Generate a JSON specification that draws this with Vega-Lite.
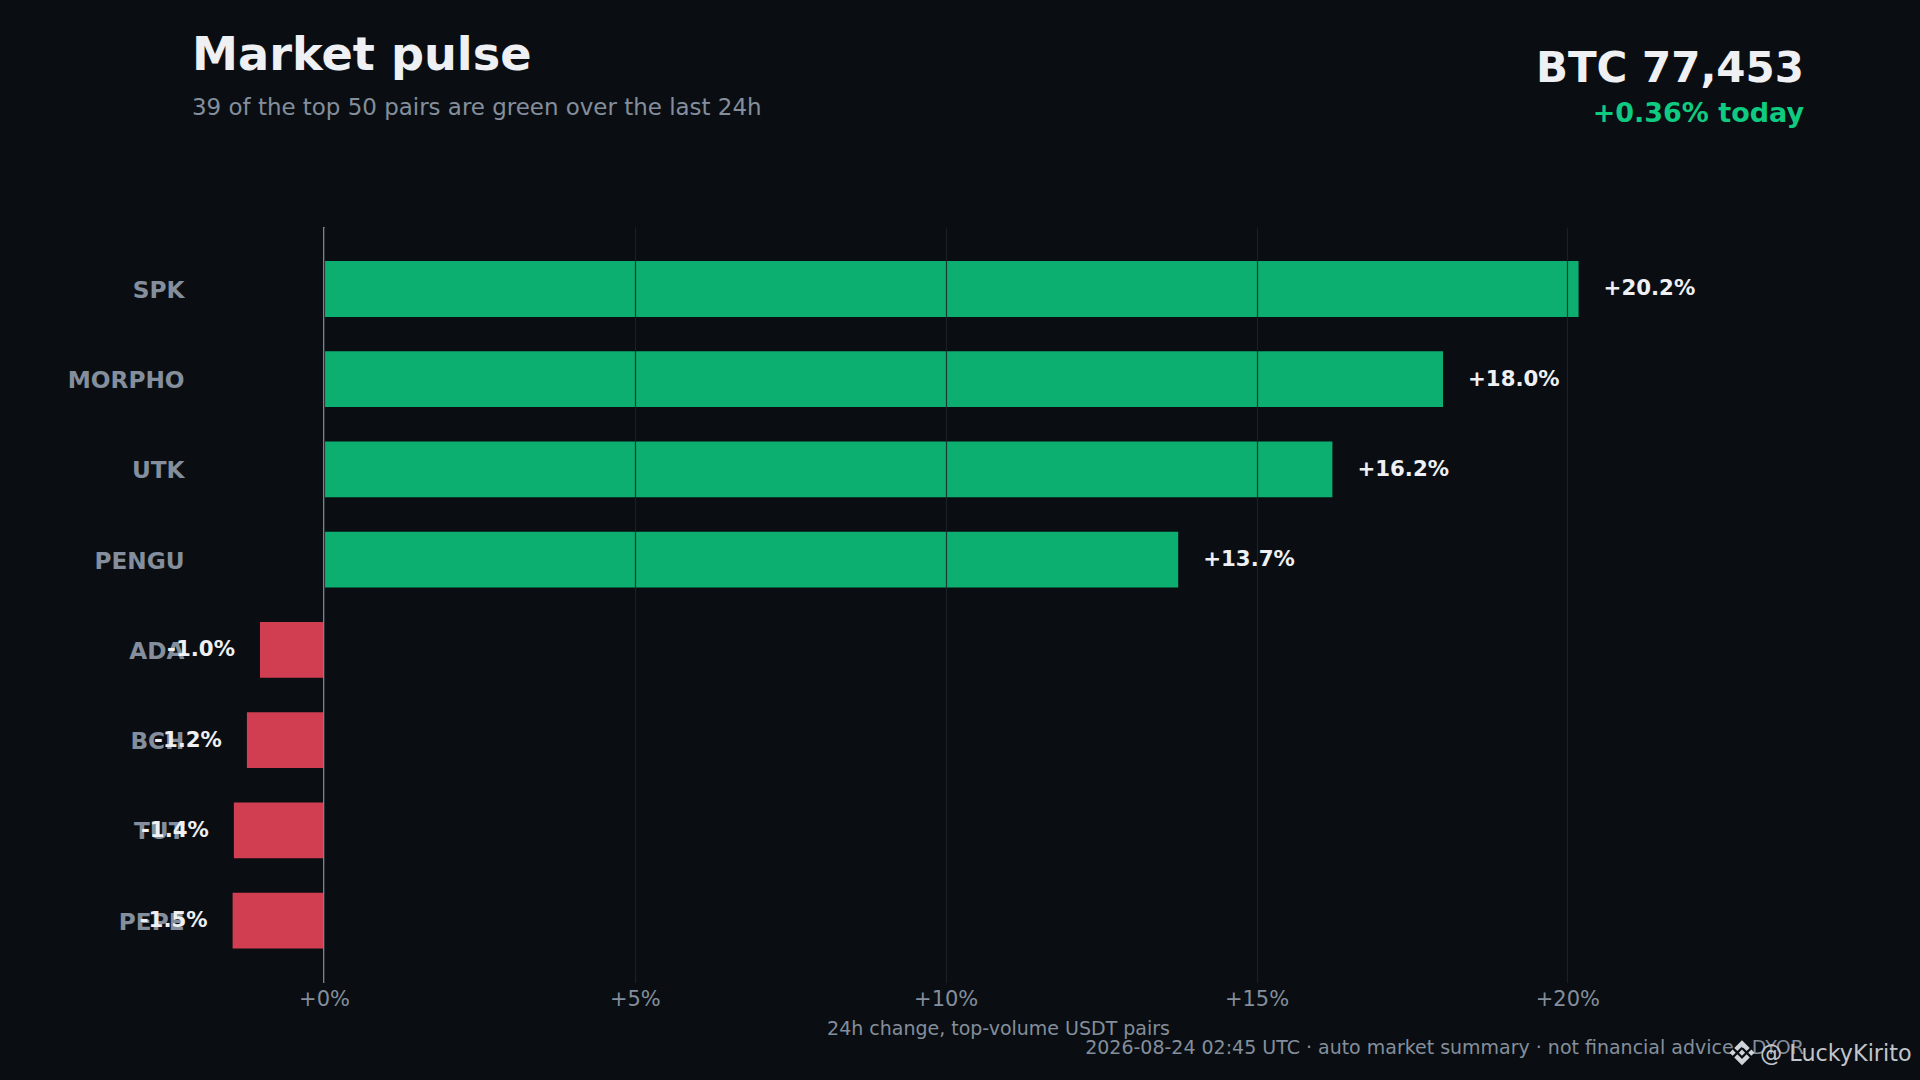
{
  "$schema": "https://vega.github.io/schema/vega-lite/v5.json",
  "autosize": "none",
  "padding": {"left": 192, "top": 227, "right": 116, "bottom": 97},
  "width": 1612,
  "height": 755.7,
  "background": "#0a0e12",
  "config": {"view": {"stroke": null}},
  "title": {
    "text": "Market pulse",
    "subtitle": "39 of the top 50 pairs are green over the last 24h",
    "anchor": "start",
    "frame": "group",
    "font": "DejaVu Sans",
    "fontSize": 46.2,
    "fontWeight": "bold",
    "color": "#eef0f4",
    "subtitleFont": "DejaVu Sans",
    "subtitleFontSize": 22.95,
    "subtitleColor": "#848e9c",
    "subtitlePadding": 16.5,
    "offset": -72.5
  },
  "data": {
    "values": [
      {"pair": "SPK", "change": 20.18, "label": "+20.2%"},
      {"pair": "MORPHO", "change": 18.0, "label": "+18.0%"},
      {"pair": "UTK", "change": 16.22, "label": "+16.2%"},
      {"pair": "PENGU", "change": 13.74, "label": "+13.7%"},
      {"pair": "ADA", "change": -1.03, "label": "-1.0%"},
      {"pair": "BCH", "change": -1.24, "label": "-1.2%"},
      {"pair": "TUT", "change": -1.45, "label": "-1.4%"},
      {"pair": "PEPE", "change": -1.47, "label": "-1.5%"}
    ]
  },
  "encoding": {
    "y": {
      "field": "pair",
      "type": "nominal",
      "sort": null,
      "title": null,
      "scale": {"paddingInner": 0.382, "paddingOuter": 0.378},
      "axis": {
        "domain": false,
        "ticks": false,
        "grid": false,
        "labelPadding": 8,
        "labelOffset": 2,
        "labelFont": "DejaVu Sans",
        "labelFontSize": 23.2,
        "labelFontWeight": "bold",
        "labelColor": "#848e9c"
      }
    },
    "x": {
      "field": "change",
      "type": "quantitative",
      "title": "24h change, top-volume USDT pairs",
      "scale": {"domain": [-2.123, 23.806], "nice": false, "zero": false},
      "axis": {
        "values": [0, 5, 10, 15, 20],
        "labelExpr": "'+' + datum.value + '%'",
        "domain": false,
        "ticks": false,
        "grid": true,
        "gridColor": "#1e2329",
        "gridOpacity": 0.85,
        "gridWidth": 1.2,
        "zindex": 1,
        "labelPadding": 6,
        "labelFont": "DejaVu Sans",
        "labelFontSize": 21,
        "labelColor": "#848e9c",
        "titleFont": "DejaVu Sans",
        "titleFontSize": 19,
        "titleFontWeight": "normal",
        "titleColor": "#848e9c",
        "titlePadding": 10
      }
    }
  },
  "layer": [
    {
      "mark": {"type": "bar", "opacity": 0.85},
      "encoding": {
        "color": {
          "condition": {"test": "datum.change >= 0", "value": "#0ecb81"},
          "value": "#f6465d"
        }
      }
    },
    {
      "mark": {"type": "rule", "color": "#848e9c", "strokeWidth": 1.6},
      "encoding": {
        "x": {"datum": 0},
        "y": {}
      }
    },
    {
      "transform": [{"filter": "datum.change >= 0"}],
      "mark": {"type": "text", "align": "left", "baseline": "middle", "dx": 25, "dy": 0.5, "font": "DejaVu Sans", "fontSize": 21.3, "fontWeight": "bold", "color": "#eef0f4"},
      "encoding": {"text": {"field": "label"}}
    },
    {
      "transform": [{"filter": "datum.change < 0"}],
      "mark": {"type": "text", "align": "right", "baseline": "middle", "dx": -25, "dy": 0.5, "font": "DejaVu Sans", "fontSize": 21.3, "fontWeight": "bold", "color": "#eef0f4"},
      "encoding": {"text": {"field": "label"}}
    },
    {
      "data": {"values": [{"text": "BTC 77,453", "at": 23.806, "pair": "SPK"}]},
      "mark": {"type": "text", "align": "right", "baseline": "middle", "dy": -220, "font": "DejaVu Sans", "fontSize": 42, "fontWeight": "bold", "color": "#eef0f4"},
      "encoding": {"x": {"field": "at", "type": "quantitative"}, "y": {"field": "pair", "type": "nominal", "sort": null}, "text": {"field": "text"}}
    },
    {
      "data": {"values": [{"text": "+0.36% today", "at": 23.806, "pair": "SPK"}]},
      "mark": {"type": "text", "align": "right", "baseline": "middle", "dy": -175, "font": "DejaVu Sans", "fontSize": 27, "fontWeight": "bold", "color": "#0ecb81"},
      "encoding": {"x": {"field": "at", "type": "quantitative"}, "y": {"field": "pair", "type": "nominal", "sort": null}, "text": {"field": "text"}}
    },
    {
      "data": {"values": [{"text": "2026-08-24 02:45 UTC · auto market summary · not financial advice · DYOR", "at": 23.806, "pair": "PEPE"}]},
      "mark": {"type": "text", "align": "right", "baseline": "middle", "dy": 127, "font": "DejaVu Sans", "fontSize": 19, "color": "#848e9c"},
      "encoding": {"x": {"field": "at", "type": "quantitative"}, "y": {"field": "pair", "type": "nominal", "sort": null}, "text": {"field": "text"}}
    },
    {
      "data": {"values": [{"text": "@ LuckyKirito", "at": 23.806, "pair": "PEPE"}]},
      "mark": {"type": "text", "align": "left", "baseline": "middle", "dx": -44, "dy": 133.5, "font": "DejaVu Sans", "fontSize": 22.3, "color": "#c2c5ca"},
      "encoding": {"x": {"field": "at", "type": "quantitative"}, "y": {"field": "pair", "type": "nominal", "sort": null}, "text": {"field": "text"}}
    },
    {
      "data": {"values": [{"at": 23.806, "pair": "PEPE"}]},
      "mark": {"type": "point", "filled": true, "opacity": 1, "color": "#d0d3d7", "size": 625, "xOffset": -62, "yOffset": 132,
        "shape": "M0,-1 L0.62,-0.38 L0.37,-0.13 L0,-0.5 L-0.37,-0.13 L-0.62,-0.38 Z M0,1 L0.62,0.38 L0.37,0.13 L0,0.5 L-0.37,0.13 L-0.62,0.38 Z M0,-0.25 L0.25,0 L0,0.25 L-0.25,0 Z M-0.75,-0.25 L-0.5,0 L-0.75,0.25 L-1,0 Z M0.75,-0.25 L1,0 L0.75,0.25 L0.5,0 Z"},
      "encoding": {"x": {"field": "at", "type": "quantitative"}, "y": {"field": "pair", "type": "nominal", "sort": null}}
    }
  ]
}
